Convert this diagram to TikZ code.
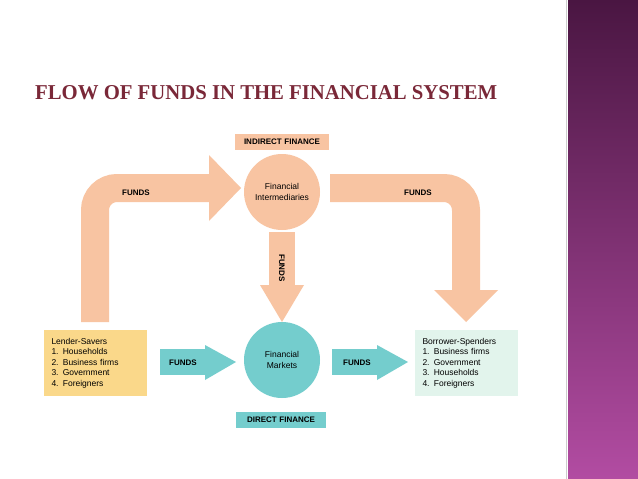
\documentclass[tikz,border=0pt]{standalone}
\usepackage{fontspec}
\setmainfont{Liberation Sans}
\newfontfamily\titlefont{Liberation Serif}
\usetikzlibrary{arrows.meta}
\definecolor{peach}{HTML}{F8C4A2}
\definecolor{teal}{HTML}{74CDCD}
\definecolor{lend}{HTML}{FAD88A}
\definecolor{borr}{HTML}{E2F4EC}
\definecolor{ptop}{HTML}{4A1642}
\definecolor{pbot}{HTML}{B24CA2}
\definecolor{ttl}{HTML}{7A2838}
\tikzset{
  lbl/.style={font=\fontsize{8.5}{10.5}\selectfont},
  bold/.style={font=\bfseries\fontsize{8}{9}\selectfont},
  tag/.style={bold, inner sep=0pt, minimum height=16, text width=#1, align=center},
  circ/.style={circle, minimum size=76, inner sep=0pt, align=center, lbl},
  listbox/.style={minimum width=103, minimum height=66, inner sep=0pt, lbl, align=left},
}
\begin{document}
\begin{tikzpicture}[x=1pt,y=-1pt]
\useasboundingbox (0,0) rectangle (638,479);
\fill[white] (0,0) rectangle (638,479);
\shade[top color=ptop, bottom color=pbot] (568,0) rectangle (638,479);
\draw[gray!40] (566,0) -- (566,479);
\node[anchor=west, text=ttl, inner sep=0pt, font=\titlefont\bfseries\fontsize{19}{20}\selectfont] (title) at (35,93) {\resizebox{462pt}{14pt}{FLOW OF FUNDS IN THE FINANCIAL SYSTEM}};

\node[tag=94, fill=peach] (ind) at (282,142) {INDIRECT FINANCE};
\node[circ, fill=peach] (fi) at (282,192) {Financial\\Intermediaries};
\node[circ, fill=teal] (fm) at (282,360) {Financial\\Markets};
\node[tag=90, fill=teal] (dir) at (281,420) {DIRECT FINANCE};
\node[listbox, fill=lend, text width=88] (ls) at (95.5,363) {Lender-Savers\\1. Households\\2. Business firms\\3. Government\\4. Foreigners};
\node[listbox, fill=borr, text width=88] (bs) at (466.5,363) {Borrower-Spenders\\1. Business firms\\2. Government\\3. Households\\4. Foreigners};

% peach arrows
\coordinate (a1) at (95,322);
\coordinate (a2) at (95,188);
\coordinate (a3) at (210,188);
\coordinate (b1) at (330,188);
\coordinate (b2) at (466,188);
\coordinate (b3) at (466,292);
\draw[peach, line width=28, rounded corners=22] (a1) -- (a2) -- (a3);
\fill[peach] (209,155) -- (241,188) -- (209,221) -- cycle;
\draw[peach, line width=28, rounded corners=22] (b1) -- (b2) -- (b3);
\fill[peach] (434,290) -- (498,290) -- (466,322) -- cycle;
\draw[peach, line width=26] (fi.south) ++(0,2) -- (282,286);
\fill[peach] (260,285) -- (304,285) -- (282,322) -- cycle;
\node[bold] (f1) at (136,193) {FUNDS};
\node[bold] (f2) at (418,193) {FUNDS};
\node[bold, rotate=-90] (f3) at (282,268) {FUNDS};

% teal arrows
\draw[teal, line width=26] (160,362) -- (206,362);
\fill[teal] (205,345) -- (236,362) -- (205,380) -- cycle;
\draw[teal, line width=26] (332,362) -- (378,362);
\fill[teal] (377,345) -- (408,362) -- (377,380) -- cycle;
\node[bold] (f4) at (183,363) {FUNDS};
\node[bold] (f5) at (357,363) {FUNDS};
\end{tikzpicture}
\end{document}
